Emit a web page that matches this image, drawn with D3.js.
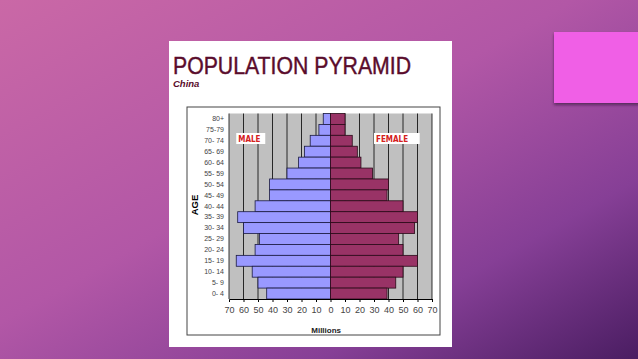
<!DOCTYPE html>
<html>
<head>
<meta charset="utf-8">
<script src="https://cdn.jsdelivr.net/npm/d3@7"></script>
<style>
	html, body { margin: 0; padding: 0; overflow: hidden; }
	svg { display: block; }
</style>
</head>
<body>
<script>
	// age groups, top to bottom
	var ages = [ "80+", "75-79", "70- 74", "65- 69", "60- 64", "55- 59", "50- 54", "45- 49", "40- 44",
			"35- 39", "30- 34", "25- 29", "20- 24", "15- 19", "10- 14", "5- 9", "0- 4" ];
	// millions
	var male = [ 5, 8, 14, 18, 22, 30, 42, 42, 52, 64, 60, 49, 52, 65, 54, 50, 44 ];
	var female = [ 10, 10, 15, 18.5, 21, 29, 40, 39, 50, 60, 58, 47, 50, 60, 50, 45, 39 ];
	var ticks = [ -70, -60, -50, -40, -30, -20, -10, 0, 10, 20, 30, 40, 50, 60, 70 ];

	var width = 638, height = 359;

	var svg = d3.select("body").append("svg")//
	.attr("width", width)//
	.attr("height", height);

	// slide background
	var defs = svg.append("defs");
	var grad = defs.append("linearGradient").attr("id", "bg")//
	.attr("x1", "0").attr("y1", "0").attr("x2", "1").attr("y2", "1");
	grad.append("stop").attr("offset", "0").attr("stop-color", "#ca68a6");
	grad.append("stop").attr("offset", "0.45").attr("stop-color", "#b257a6");
	grad.append("stop").attr("offset", "0.75").attr("stop-color", "#863f96");
	grad.append("stop").attr("offset", "1").attr("stop-color", "#4a1d62");
	var shadow = defs.append("filter").attr("id", "shadow")//
	.attr("x", "-20%").attr("y", "-20%").attr("width", "140%").attr("height", "150%");
	shadow.append("feDropShadow").attr("dx", 0).attr("dy", 2).attr("stdDeviation", 1.5)//
	.attr("flood-color", "#2a0a30").attr("flood-opacity", 0.6);

	svg.append("rect").attr("width", width).attr("height", height).attr("fill", "url(#bg)");

	// pink square top right
	svg.append("rect")//
	.attr("x", 554).attr("y", 32).attr("width", 90).attr("height", 71)//
	.attr("fill", "#f05ee6")//
	.attr("filter", "url(#shadow)");

	// white picture box
	svg.append("rect")//
	.attr("x", 169).attr("y", 41).attr("width", 283).attr("height", 306)//
	.attr("fill", "#ffffff");

	svg.append("text")//
	.attr("x", 173).attr("y", 73.5)//
	.attr("font-family", "Liberation Sans, Arial, sans-serif")//
	.attr("font-size", "23px")//
	.attr("textLength", 238).attr("lengthAdjust", "spacingAndGlyphs")//
	.attr("fill", "#5a0c2c")//
	.attr("stroke", "#5a0c2c").attr("stroke-width", 0.4)//
	.text("POPULATION PYRAMID");

	svg.append("text")//
	.attr("x", 173).attr("y", 87)//
	.attr("font-family", "Liberation Sans, Arial, sans-serif")//
	.attr("font-size", "9.5px")//
	.attr("font-weight", "bold")//
	.attr("font-style", "italic")//
	.attr("fill", "#5a0c2c")//
	.text("China");

	// chart frame
	svg.append("rect")//
	.attr("x", 187).attr("y", 107).attr("width", 253).attr("height", 228)//
	.attr("fill", "#ffffff").attr("stroke", "#444").attr("stroke-width", 1);

	var x = d3.scaleLinear().domain([ -70, 70 ]).range([ 229, 432 ]);
	var y = d3.scaleBand().domain(ages).range([ 113.5, 299 ]).padding(0);

	var plot = svg.append("g");

	plot.append("rect")//
	.attr("x", x(-70)).attr("y", y.range()[0])//
	.attr("width", x(70) - x(-70)).attr("height", y.range()[1] - y.range()[0])//
	.attr("fill", "#c0c0c0");

	// vertical gridlines
	plot.selectAll(".grid").data(ticks).enter().append("line")//
	.attr("class", "grid")//
	.attr("x1", function(d) {
		return x(d);
	})//
	.attr("x2", function(d) {
		return x(d);
	})//
	.attr("y1", y.range()[0])//
	.attr("y2", y.range()[1])//
	.attr("stroke", "#000")//
	.attr("stroke-width", 0.8);

	// male bars
	plot.selectAll(".male").data(male).enter().append("rect")//
	.attr("class", "male")//
	.attr("x", function(d) {
		return x(-d);
	})//
	.attr("y", function(d, i) {
		return y(ages[i]);
	})//
	.attr("width", function(d) {
		return x(0) - x(-d);
	})//
	.attr("height", y.bandwidth())//
	.attr("fill", "#9999ff")//
	.attr("stroke", "#1a1a40")//
	.attr("stroke-width", 0.8);

	// female bars
	plot.selectAll(".female").data(female).enter().append("rect")//
	.attr("class", "female")//
	.attr("x", x(0))//
	.attr("y", function(d, i) {
		return y(ages[i]);
	})//
	.attr("width", function(d) {
		return x(d) - x(0);
	})//
	.attr("height", y.bandwidth())//
	.attr("fill", "#993366")//
	.attr("stroke", "#2a0a18")//
	.attr("stroke-width", 0.8);

	// bottom axis
	var xAxis = d3.axisBottom(x).tickValues(ticks).tickSize(3).tickFormat(function(d) {
		return Math.abs(d);
	});
	var gx = svg.append("g").attr("transform", "translate(0," + y.range()[1] + ")").call(xAxis);
	gx.select(".domain").attr("stroke", "#000");
	gx.selectAll("text")//
	.attr("dy", "0.9em")//
	.attr("font-family", "Liberation Sans, Arial, sans-serif")//
	.attr("font-size", "9px")//
	.attr("fill", "#444");

	// left axis
	var yAxis = d3.axisLeft(y).tickSize(0).tickPadding(5);
	var gy = svg.append("g").attr("transform", "translate(" + x(-70) + ",0)").call(yAxis);
	gy.select(".domain").attr("stroke", "#777");
	gy.selectAll("text")//
	.attr("font-family", "Liberation Sans, Arial, sans-serif")//
	.attr("font-size", "7px")//
	.attr("fill", "#444");

	svg.append("text")//
	.attr("transform", "translate(198,205) rotate(-90)")//
	.attr("text-anchor", "middle")//
	.attr("font-family", "Liberation Sans, Arial, sans-serif")//
	.attr("font-size", "9.5px")//
	.attr("font-weight", "bold")//
	.attr("fill", "#000")//
	.text("AGE");

	svg.append("text")//
	.attr("x", x(-3)).attr("y", 333)//
	.attr("text-anchor", "middle")//
	.attr("font-family", "Liberation Sans, Arial, sans-serif")//
	.attr("font-size", "8px")//
	.attr("font-weight", "bold")//
	.attr("fill", "#222")//
	.text("Millions");

	// legend labels
	var labels = [ {
		text : "MALE",
		x0 : -65,
		x1 : -45
	}, {
		text : "FEMALE",
		x0 : 30,
		x1 : 61.5
	} ];
	var lg = svg.selectAll(".lab").data(labels).enter().append("g").attr("class", "lab");
	lg.append("rect")//
	.attr("x", function(d) {
		return x(d.x0);
	})//
	.attr("y", 133)//
	.attr("width", function(d) {
		return x(d.x1) - x(d.x0);
	})//
	.attr("height", 11)//
	.attr("fill", "#ffffff");
	lg.append("text")//
	.attr("x", function(d) {
		return x(d.x0) + 2;
	})//
	.attr("y", 141.5)//
	.attr("font-family", "DejaVu Sans Condensed, DejaVu Sans, sans-serif")//
	.attr("font-size", "8px")//
	.attr("font-weight", "bold")//
	.attr("fill", "#d42020")//
	.text(function(d) {
		return d.text;
	});
</script>
</body>
</html>
